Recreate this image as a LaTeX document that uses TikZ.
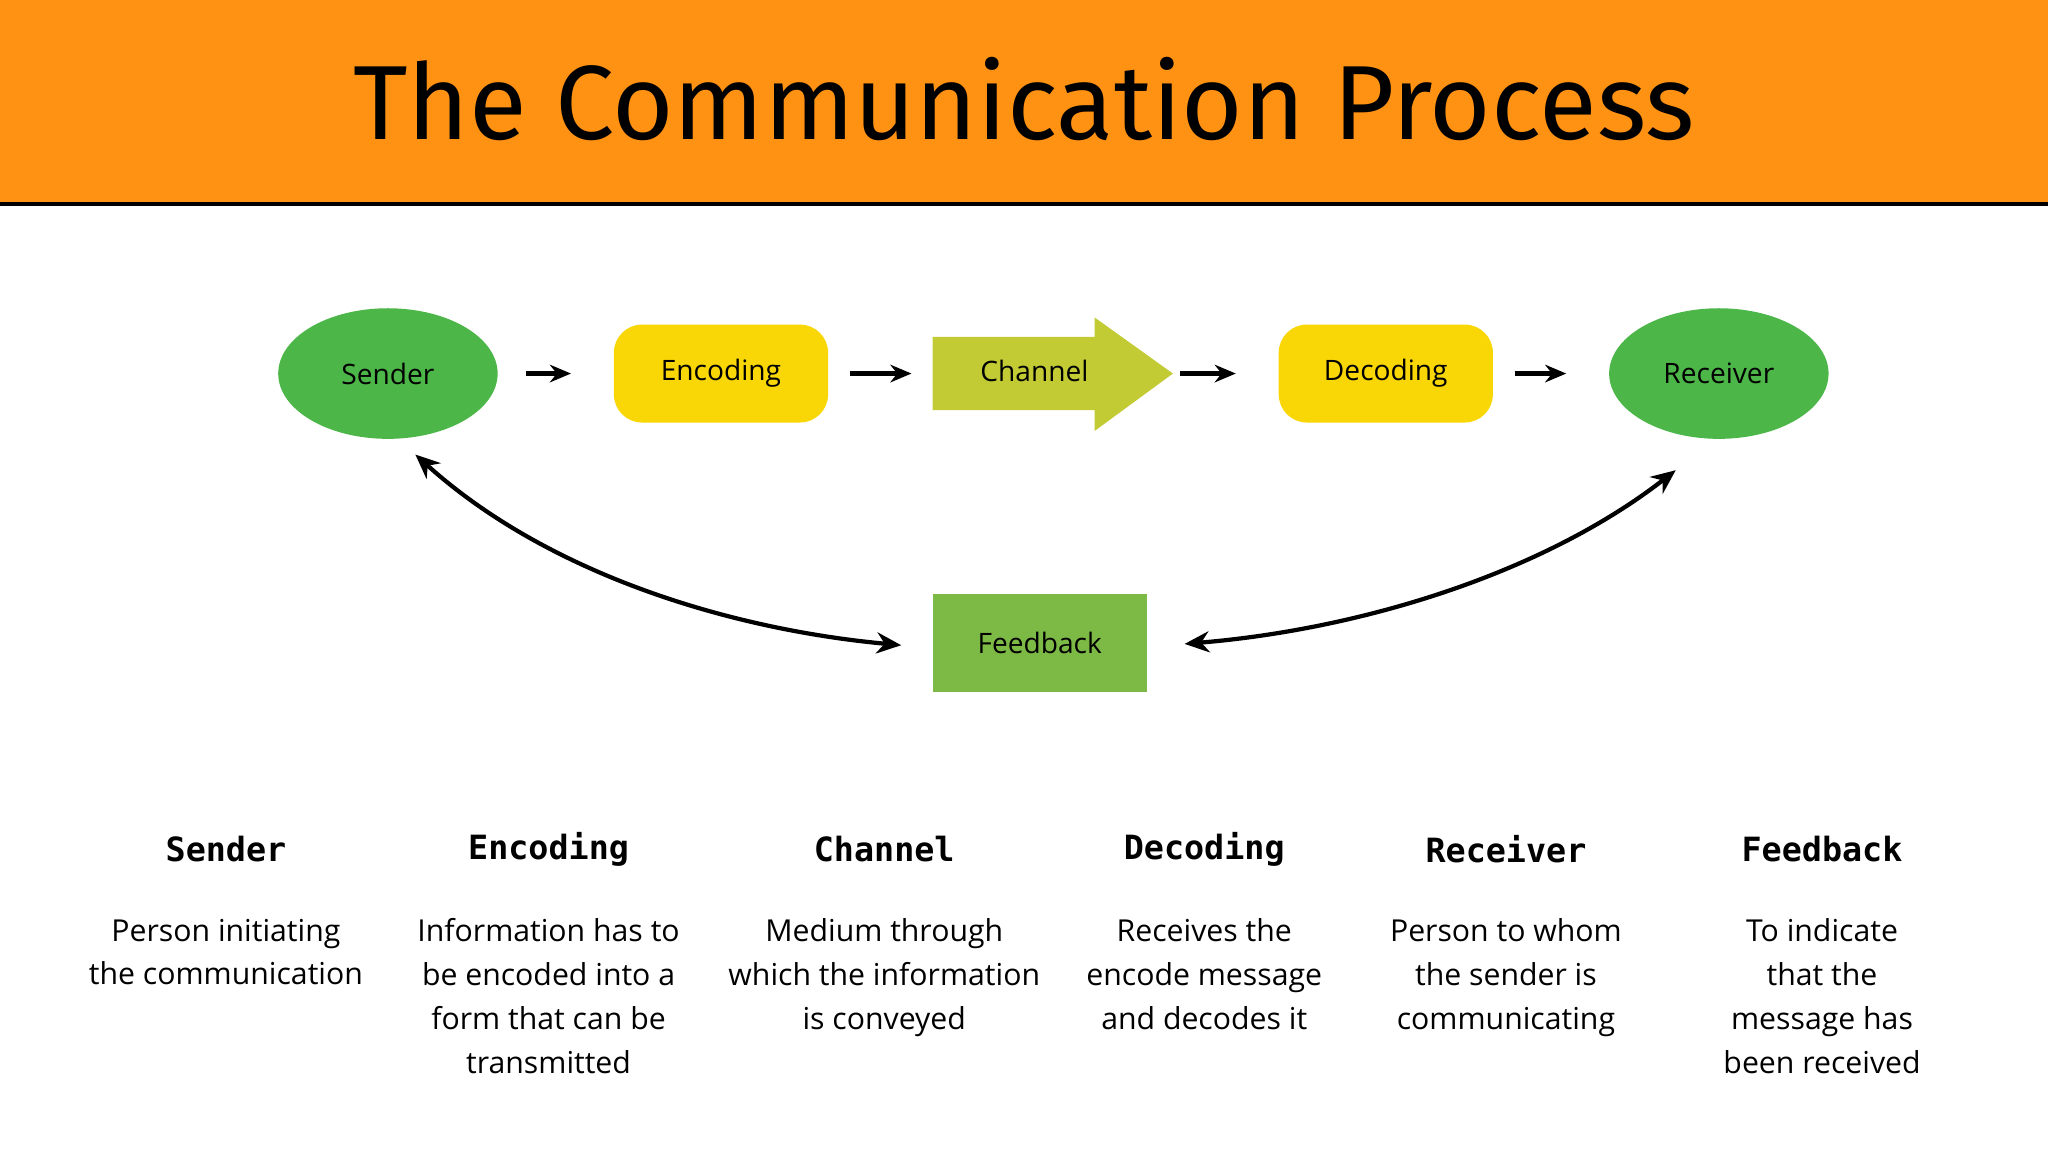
\documentclass[tikz,border=0pt]{standalone}
\usepackage{fontspec}
\setmainfont{Open Sans}
\newfontfamily\hd{DejaVu Sans Mono}
\newfontfamily\tf{Fira Sans}
\usetikzlibrary{arrows.meta,shapes.geometric}
\definecolor{org}{HTML}{FF9213}
\definecolor{grn}{HTML}{4CB748}
\definecolor{yel}{HTML}{F9D606}
\definecolor{chn}{HTML}{C2CB34}
\definecolor{fb}{HTML}{7DBA45}
\begin{document}
\begin{tikzpicture}[x=0.01306cm,y=-0.01306cm,
  ell/.style={ellipse,fill=grn,minimum width=168\pgflinewidth*0+168*0.01306cm,minimum height=100*0.01306cm,font=\fontsize{8}{10}\selectfont},
  box/.style={rounded corners=8pt,fill=yel,minimum width=164*0.01306cm,minimum height=75*0.01306cm,font=\fontsize{8}{10}\selectfont},
  arr/.style={-{Stealth[length=6pt,width=5pt]},line width=1.2pt},
  hd/.style={font=\hd\bfseries\fontsize{9.5}{11}\selectfont},
  ds/.style={align=center,font=\fontsize{8.6}{12.5}\selectfont}]
\useasboundingbox (0,0) rectangle (1568,882);
\fill[org] (0,0) rectangle (1568,156);
\draw[line width=1pt] (0,156) -- (1568,156);
\node (title) at (784,76) {\tf\fontsize{30}{34}\selectfont The Communication Process};
\node[ell] (s) at (297,286) {Sender};
\node[box] (e) at (552,286) {Encoding};
\fill[chn] (714,258) -- (838,258) -- (838,243) -- (898,286) -- (838,330) -- (838,314) -- (714,314) -- cycle;
\node[font=\fontsize{8}{10}\selectfont] (c) at (792,284) {Channel};
\coordinate (cl) at (714,286); \coordinate (cr) at (898,286);
\node[box] (d) at (1061,286) {Decoding};
\node[ell] (r) at (1316,286) {Receiver};
\node[fill=fb,minimum width=164*0.01306cm,minimum height=75*0.01306cm,font=\fontsize{8}{10}\selectfont] (f) at (796,492) {Feedback};
\draw[arr] ([xshift=8]s.east) -- ([xshift=-12]e.west);
\draw[arr] ([xshift=6]e.east) -- ([xshift=-6]cl);
\draw[arr] ([xshift=2]cr) -- ([xshift=-12]d.west);
\draw[arr] ([xshift=6]d.east) -- ([xshift=-12]r.west);
\coordinate (s1) at (318,348); \coordinate (f1) at (690,494);
\coordinate (f2) at (907,493); \coordinate (r1) at (1283,360);
\draw[{Stealth[length=7pt,width=6pt]}-{Stealth[length=7pt,width=6pt]},line width=1.2pt] (s1) .. controls (420,440) and (560,482) .. (f1);
\draw[{Stealth[length=7pt,width=6pt]}-{Stealth[length=7pt,width=6pt]},line width=1.2pt] (f2) .. controls (1040,482) and (1180,440) .. (r1);
\node[hd] (h1) at (173,650) {Sender};
\node[hd] (h2) at (420,650) {Encoding};
\node[hd] (h3) at (677,650) {Channel};
\node[hd] (h4) at (922,650) {Decoding};
\node[hd] (h5) at (1153,650) {Receiver};
\node[hd] (h6) at (1395,650) {Feedback};
\node[ds,anchor=north] (t1) at (173,694) {Person initiating\\the communication};
\node[ds,anchor=north] (t2) at (420,694) {Information has to\\be encoded into a\\form that can be\\transmitted};
\node[ds,anchor=north] (t3) at (677,694) {Medium through\\which the information\\is conveyed};
\node[ds,anchor=north] (t4) at (922,694) {Receives the\\encode message\\and decodes it};
\node[ds,anchor=north] (t5) at (1153,694) {Person to whom\\the sender is\\communicating};
\node[ds,anchor=north] (t6) at (1395,694) {To indicate\\that the\\message has\\been received};
\end{tikzpicture}
\end{document}
